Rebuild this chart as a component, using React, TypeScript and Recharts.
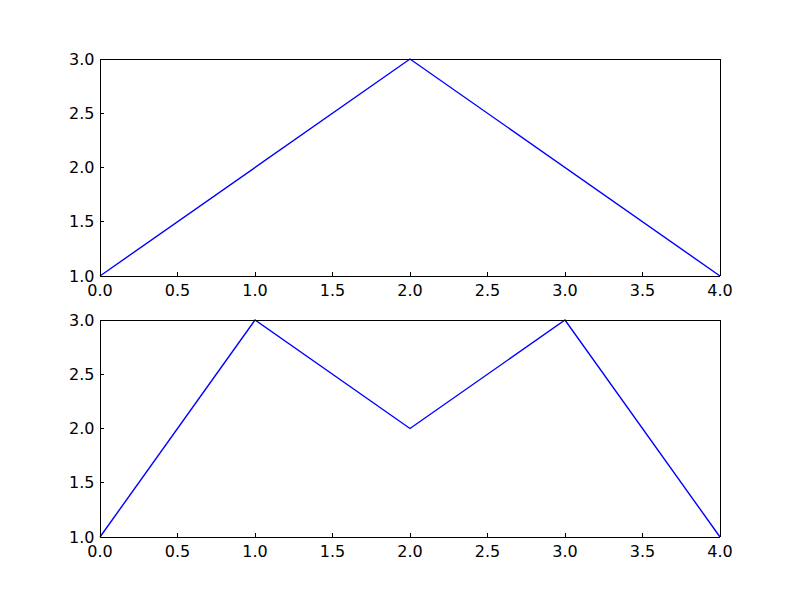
import React from 'react';
import { LineChart, Line, XAxis, YAxis } from 'recharts';

const topX = [0, 2, 4];
const topY = [1, 3, 1];
const bottomX = [0, 1, 2, 3, 4];
const bottomY = [1, 3, 2, 3, 1];
const xTicks = [0, 0.5, 1, 1.5, 2, 2.5, 3, 3.5, 4];
const yTicks = [1, 1.5, 2, 2.5, 3];

const font = { fontFamily: 'DejaVu Sans', fontSize: 16, fill: '#000' };
const fmt = (v: number) => v.toFixed(1);

function Panel({ xs, ys, top, margin }: { xs: number[]; ys: number[]; top: number; margin: any }) {
  const data = xs.map((x, i) => ({ x, y: ys[i] }));
  const axisLine = { stroke: '#000', strokeWidth: 1, shapeRendering: 'crispEdges' };
  const tickLine = { stroke: '#000', strokeWidth: 1, shapeRendering: 'crispEdges' };
  return (
    <div style={{ position: 'absolute', left: 0, top }}>
      <LineChart width={800} height={300} data={data} margin={margin}>
        <XAxis
          dataKey="x"
          type="number"
          domain={[0, 4]}
          ticks={xTicks}
          interval={0}
          height={1}
          tickSize={-4}
          tickMargin={13}
          tickFormatter={fmt}
          tick={font}
          axisLine={axisLine}
          tickLine={tickLine}
        />
        <XAxis
          xAxisId="top"
          orientation="top"
          type="number"
          domain={[0, 4]}
          ticks={xTicks}
          interval={0}
          height={1}
          tickSize={-4}
          tick={false}
          axisLine={axisLine}
          tickLine={tickLine}
        />
        <YAxis
          type="number"
          domain={[1, 3]}
          ticks={yTicks}
          interval={0}
          width={1}
          tickSize={-4}
          tickMargin={9.5}
          tickFormatter={fmt}
          tick={font}
          axisLine={axisLine}
          tickLine={tickLine}
        />
        <YAxis
          yAxisId="right"
          orientation="right"
          type="number"
          domain={[1, 3]}
          ticks={yTicks}
          interval={0}
          width={1}
          tickSize={-4}
          tick={false}
          axisLine={axisLine}
          tickLine={tickLine}
        />
        <Line
          type="linear"
          dataKey="y"
          stroke="#0000ff"
          strokeWidth={1.4}
          dot={false}
          isAnimationActive={false}
        />
      </LineChart>
    </div>
  );
}

export default function App() {
  return (
    <div style={{ position: 'absolute', left: 0, top: 0, width: 800, height: 597, background: '#fff' }}>
      <Panel xs={topX} ys={topY} top={0} margin={{ top: 58, right: 79, bottom: 23, left: 99 }} />
      <Panel xs={bottomX} ys={bottomY} top={290} margin={{ top: 29, right: 79, bottom: 52, left: 99 }} />
    </div>
  );
}
